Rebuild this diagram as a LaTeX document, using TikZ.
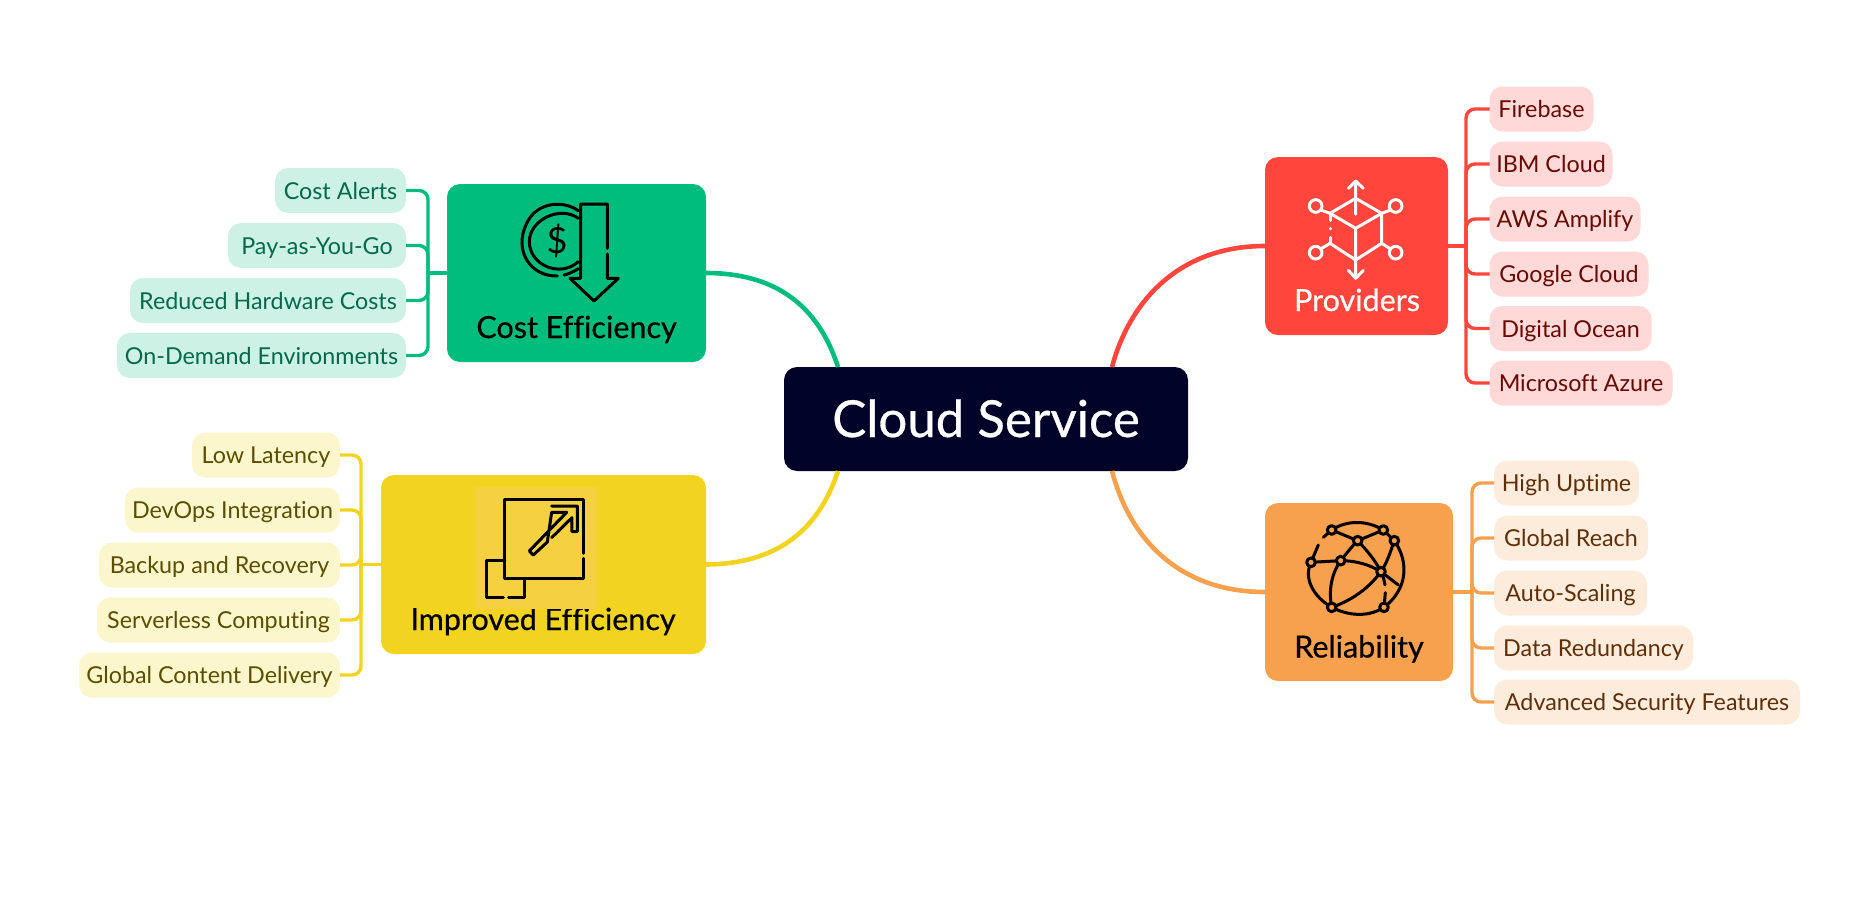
\documentclass[tikz,border=0pt]{standalone}
\usepackage{fontspec}
\setmainfont[Ligatures=NoCommon]{Lato}
\newfontfamily\titlefont[FakeBold=0.55,Ligatures=NoCommon]{Lato}
\definecolor{cgreen}{HTML}{00BD7D}
\definecolor{cred}{HTML}{FF453C}
\definecolor{corange}{HTML}{F7A04E}
\definecolor{cyellow}{HTML}{F2D420}
\definecolor{cnavy}{HTML}{020328}
\definecolor{lgreen}{HTML}{CDF2E5}
\definecolor{tgreen}{HTML}{04694A}
\definecolor{lred}{HTML}{FFD9D7}
\definecolor{tred}{HTML}{660A05}
\definecolor{lorange}{HTML}{FDECDB}
\definecolor{torange}{HTML}{5E2F08}
\definecolor{lyellow}{HTML}{FCF6CC}
\definecolor{tyellow}{HTML}{5A4E00}
\definecolor{iconbg}{HTML}{F5D040}
\tikzset{
  box/.style={rounded corners=13pt,inner sep=0pt,outer sep=0pt},
  leaf/.style={rounded corners=13pt,inner sep=0pt,outer sep=0pt,minimum height=45pt,text height=18.5pt,text depth=1.5pt,font=\fontsize{23.3}{25}\selectfont},
  gleaf/.style={leaf,fill=lgreen,text=tgreen},
  yleaf/.style={leaf,fill=lyellow,text=tyellow},
  rleaf/.style={leaf,fill=lred,text=tred},
  oleaf/.style={leaf,fill=lorange,text=torange},
  title/.style={font=\titlefont\fontsize{30.5}{32}\selectfont,inner sep=0pt,anchor=base},
  branch/.style={line width=3.4pt,rounded corners=9pt},
  maincurve/.style={line width=4.6pt},
  icon/.style={line width=3pt,line join=round,line cap=round},
}
\begin{document}
\begin{tikzpicture}[x=1pt,y=-1pt]
\useasboundingbox (0,0) rectangle (1870,900);
% main boxes
\node[box,fill=cnavy,minimum width=404pt,minimum height=104pt,text=white,text height=36pt,text depth=0pt,font=\titlefont\fontsize{51}{53}\selectfont] (cs) at (986,419) {Cloud Service};
\node[box,fill=cgreen,minimum width=259pt,minimum height=178pt] (ce) at (576.5,273) {};
\node[box,fill=cyellow,minimum width=325pt,minimum height=179pt] (ie) at (543.5,564.5) {};
\node[box,fill=cred,minimum width=183pt,minimum height=178pt] (pr) at (1356.5,246) {};
\node[box,fill=corange,minimum width=188pt,minimum height=178pt] (re) at (1359,592) {};
\node[title] (cet) at (576.5,338) {Cost Efficiency};
\node[title] (iet) at (543,630) {Improved Efficiency};
\node[title,text=white] (prt) at (1357,311) {Providers};
\node[title] (ret) at (1359,657.5) {Reliability};
% anchors on the central box
\coordinate (c1) at (838,367);
\coordinate (c2) at (1112,367);
\coordinate (c3) at (838,471);
\coordinate (c4) at (1112,471);
\draw[maincurve,cgreen] (ce.east) .. controls (775,273) and (818,305) .. (c1);
\draw[maincurve,cyellow] (ie.east) .. controls (775,564) and (818,532) .. (c3);
\draw[maincurve,cred] (pr.west) .. controls (1180,246) and (1130,300) .. (c2);
\draw[maincurve,corange] (re.west) .. controls (1180,592) and (1130,540) .. (c4);
% leaves
\node[gleaf,minimum width=131pt] (g1) at (340.5,190.5) {Cost Alerts};
\node[gleaf,minimum width=178pt] (g2) at (317,245.5) {Pay-as-You-Go};
\node[gleaf,minimum width=276pt] (g3) at (268,300.5) {Reduced Hardware Costs};
\node[gleaf,minimum width=289pt] (g4) at (261.5,355.5) {On-Demand Environments};
\node[yleaf,minimum width=148pt] (y1) at (266,455) {Low Latency};
\node[yleaf,minimum width=215pt] (y2) at (232.5,510) {DevOps Integration};
\node[yleaf,minimum width=241pt] (y3) at (219.5,565) {Backup and Recovery};
\node[yleaf,minimum width=243pt] (y4) at (218.5,620) {Serverless Computing};
\node[yleaf,minimum width=261pt] (y5) at (209.5,675) {Global Content Delivery};
\node[rleaf,minimum width=104pt] (r1) at (1541.5,109) {Firebase};
\node[rleaf,minimum width=123pt] (r2) at (1551,164) {IBM Cloud};
\node[rleaf,minimum width=151pt] (r3) at (1565,219) {AWS Amplify};
\node[rleaf,minimum width=159pt] (r4) at (1569,274) {Google Cloud};
\node[rleaf,minimum width=162pt] (r5) at (1570.5,328.5) {Digital Ocean};
\node[rleaf,minimum width=183pt] (r6) at (1581,383) {Microsoft Azure};
\node[oleaf,minimum width=145pt] (o1) at (1566.5,483) {High Uptime};
\node[oleaf,minimum width=154pt] (o2) at (1571,538) {Global Reach};
\node[oleaf,minimum width=153pt] (o3) at (1570.5,593) {Auto-Scaling};
\node[oleaf,minimum width=199pt] (o4) at (1593.5,648) {Data Redundancy};
\node[oleaf,minimum width=306pt] (o5) at (1647,702) {Advanced Security Features};
% branches
\coordinate (jg) at (428,273);
\coordinate (jy) at (361,564.5);
\coordinate (jr) at (1466,246);
\coordinate (jo) at (1472,592);
\foreach \n in {g1,g2,g3,g4}{\draw[branch,cgreen] (\n.east) -| (jg);}
\draw[branch,cgreen] (jg) -- (ce.west);
\foreach \n in {y1,y2,y3,y4,y5}{\draw[branch,cyellow] (\n.east) -| (jy);}
\draw[branch,cyellow] (jy) -- (ie.west);
\foreach \n in {r1,r2,r3,r4,r5,r6}{\draw[branch,cred] (\n.west) -| (jr);}
\draw[branch,cred] (jr) -- (pr.east);
\foreach \n in {o1,o2,o3,o4,o5}{\draw[branch,corange] (\n.west) -| (jo);}
\draw[branch,corange] (jo) -- (re.east);
% cost icon
\begin{scope}[shift={(430,170)},x=0.3333pt,y=-0.3333pt,icon]
\draw (452,102) -- (532,102) -- (532,235) (532,252) -- (532,325) -- (565,325) -- (492,393) -- (420,325) -- (452,325) -- (452,102);
\draw (445,122) .. controls (400,90) and (320,95) .. (290,160) .. controls (250,240) and (300,320) .. (382,318);
\draw (402,315) .. controls (415,312) and (430,306) .. (445,296);
\draw (445,145) .. controls (390,105) and (298,150) .. (298,215) .. controls (298,285) and (390,325) .. (445,275);
\node[inner sep=0pt,font=\fontsize{36}{38}\selectfont] (dollar) at (381,213) {\$};
\end{scope}
% improved icon
\fill[iconbg] (475.3,487) rectangle (597.3,609);
\begin{scope}[shift={(370,465)},x=0.3333pt,y=-0.3333pt,icon]
\draw (642,265) -- (642,104) -- (405,104) -- (405,342) -- (642,342) -- (642,280);
\draw (405,286) -- (350,286) -- (350,397) -- (400,397) (416,397) -- (463,397) -- (463,342);
\draw (545,123) -- (622,123) -- (622,200) -- (606,200) -- (606,158) -- (545,218) (532,231) -- (490,270) -- (478,258) -- (590,142) -- (545,142) -- cycle;
\end{scope}
% providers icon
\begin{scope}[shift={(1250,145)},x=0.3333pt,y=-0.3333pt,icon,white]
\draw (240,205) -- (317,160) -- (395,205) -- (317,250) -- cycle;
\draw (395,205) -- (395,295) -- (317,345) -- (240,295);
\draw (240,295) -- (240,277) (240,250) -- (240,252) (240,208) -- (240,226);
\draw (317,250) -- (317,400) (295,376) -- (317,400) -- (340,376);
\draw (317,208) -- (317,108) (295,130) -- (317,108) -- (340,130);
\draw (212,195) -- (240,205) (422,195) -- (395,205) (212,312) -- (240,295) (422,312) -- (395,295);
\foreach \a/\b in {197/183,437/183,197/323,437/323}{\draw (\a,\b) circle (19);}
\end{scope}
% reliability icon
\begin{scope}[shift={(1250,490)},x=0.3333pt,y=-0.3333pt,icon]
\draw (245,120) .. controls (290,90) and (350,90) .. (400,120);
\draw (433,152) .. controls (480,220) and (470,300) .. (402,352);
\draw (402,352) .. controls (350,385) and (290,375) .. (245,352);
\draw (245,352) .. controls (190,320) and (160,265) .. (183,217);
\draw (183,217) -- (205,165) (220,142) -- (245,120);
\draw (400,120) -- (433,152) (245,120) -- (323,152) -- (400,120);
\draw (183,217) -- (272,212);
\draw (272,212) .. controls (290,190) and (305,170) .. (323,152);
\draw (272,212) .. controls (320,212) and (360,225) .. (393,245);
\draw (323,152) .. controls (350,180) and (375,210) .. (393,245);
\draw (433,152) .. controls (420,190) and (410,220) .. (393,245);
\draw (393,245) -- (445,285);
\draw (272,212) .. controls (245,250) and (235,300) .. (245,352);
\draw (245,352) .. controls (310,330) and (360,290) .. (393,245);
\draw (393,245) .. controls (400,260) and (403,272) .. (405,285) (406,308) -- (402,352);
\foreach \a/\b in {245/120,400/120,433/152,323/152,183/217,272/212,393/245,245/352,402/352}{\filldraw[fill=corange] (\a,\b) circle (13);}
\end{scope}
\end{tikzpicture}
\end{document}
